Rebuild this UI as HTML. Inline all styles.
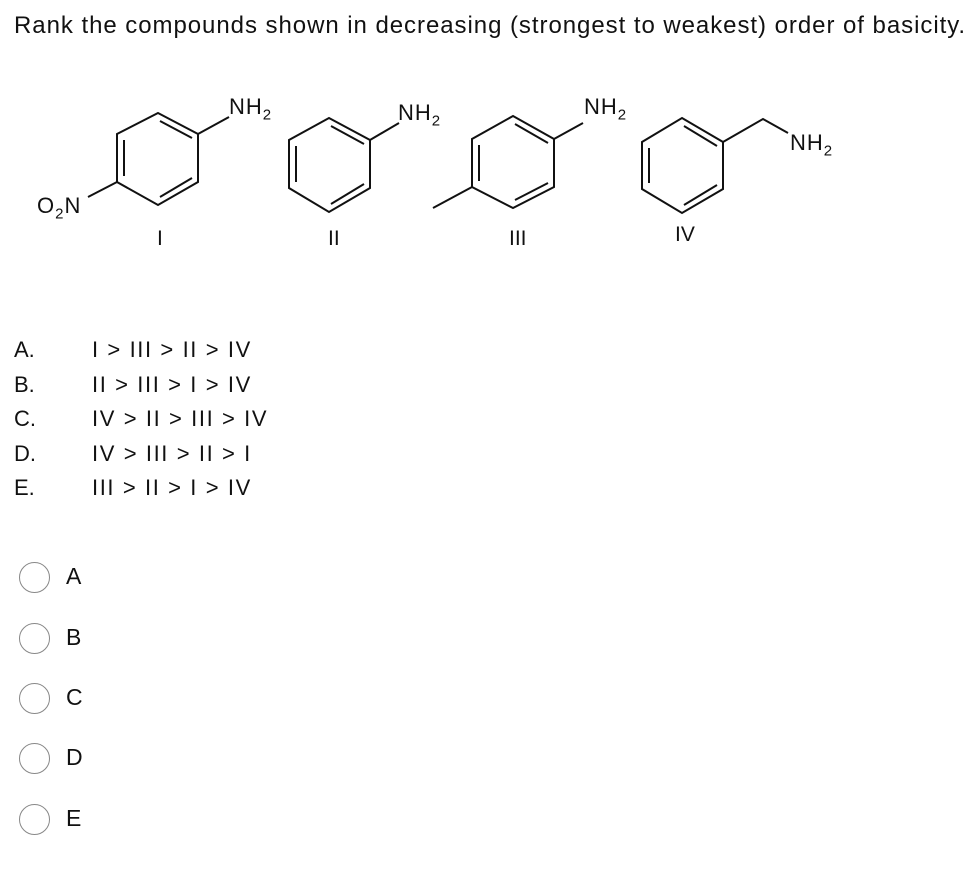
<!DOCTYPE html>
<html><head><style>
body{margin:0;background:#fff;width:976px;height:874px;position:relative;font-family:"Liberation Sans",Arial,sans-serif;color:#111;overflow:hidden}
.t{position:absolute;white-space:nowrap}
.n{font-size:22px;letter-spacing:1px}
.n sub{font-size:15px}
.c{position:absolute;left:19px;width:31px;height:31px;border:1.5px solid #888;border-radius:50%;box-sizing:border-box}
</style></head><body>
<div class="t" style="left:14px;top:12px;font-size:24px;letter-spacing:0.95px">Rank the compounds shown in decreasing (strongest to weakest) order of basicity.</div>
<svg width="976" height="874" style="position:absolute;left:0;top:0" fill="none" stroke="#111" stroke-width="2">
<polygon points="158,113 198,134 198,182 158,205 117,182 117,134"/>
<line x1="124" y1="140" x2="124" y2="176"/><line x1="160" y1="121" x2="192" y2="138"/><line x1="192" y1="178" x2="160" y2="197"/>
<line x1="198" y1="134" x2="229" y2="117"/><line x1="117" y1="182" x2="88" y2="197"/>
<polygon points="329,118 370,140 370,188 329,212 289,188 289,140"/>
<line x1="296" y1="146" x2="296" y2="182"/><line x1="331" y1="126" x2="364" y2="144"/><line x1="364" y1="184" x2="331" y2="204"/>
<line x1="370" y1="140" x2="399" y2="123"/>
<polygon points="513,116 554,139 554,187 513,208 472,187 472,139"/>
<line x1="479" y1="145" x2="479" y2="181"/><line x1="515" y1="124" x2="548" y2="143"/><line x1="548" y1="183" x2="515" y2="200"/>
<line x1="554" y1="139" x2="583" y2="123"/><line x1="472" y1="187" x2="433" y2="208"/>
<polygon points="682,118 723,142 723,189 682,213 642,189 642,142"/>
<line x1="649" y1="148" x2="649" y2="183"/><line x1="684" y1="126" x2="717" y2="146"/><line x1="717" y1="185" x2="684" y2="205"/>
<polyline points="723,142 763,119 788,133"/>
</svg>
<div class="t n" style="left:229px;top:94px">NH<sub>2</sub></div>
<div class="t n" style="left:398px;top:100px">NH<sub>2</sub></div>
<div class="t n" style="left:584px;top:94px">NH<sub>2</sub></div>
<div class="t n" style="left:790px;top:130px">NH<sub>2</sub></div>
<div class="t n" style="left:37px;top:193px">O<sub>2</sub>N</div>
<div class="t" style="left:157px;top:227px;font-size:21px">I</div>
<div class="t" style="left:328px;top:227px;font-size:21px">II</div>
<div class="t" style="left:509px;top:227px;font-size:21px">III</div>
<div class="t" style="left:675px;top:223px;font-size:21px">IV</div>
<div class="t" style="left:14px;top:333px;font-size:22px;line-height:34.5px">A.<br>B.<br>C.<br>D.<br>E.</div>
<div class="t" style="left:92px;top:333px;font-size:22px;line-height:34.5px;letter-spacing:1.6px">I &gt; III &gt; II &gt; IV<br>II &gt; III &gt; I &gt; IV<br>IV &gt; II &gt; III &gt; IV<br>IV &gt; III &gt; II &gt; I<br>III &gt; II &gt; I &gt; IV</div>
<div class="c" style="top:562px"></div><div class="t" style="left:66px;top:563px;font-size:23px">A</div>
<div class="c" style="top:623px"></div><div class="t" style="left:66px;top:624px;font-size:23px">B</div>
<div class="c" style="top:683px"></div><div class="t" style="left:66px;top:684px;font-size:23px">C</div>
<div class="c" style="top:743px"></div><div class="t" style="left:66px;top:744px;font-size:23px">D</div>
<div class="c" style="top:804px"></div><div class="t" style="left:66px;top:805px;font-size:23px">E</div>
</body></html>
